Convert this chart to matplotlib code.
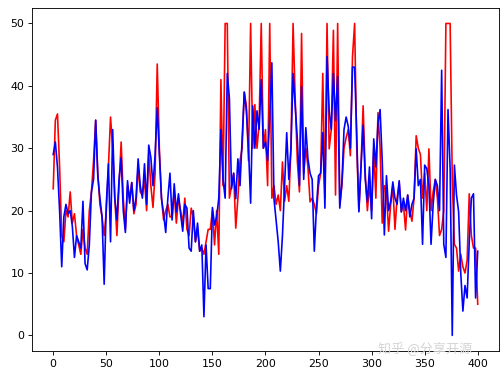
import numpy as np
import matplotlib.pyplot as plt

# sample positions (every 2 steps)
x = np.arange(0, 401, 2)

# actual values (red)
y_true = [
    23.5, 34.5, 35.5, 27, 16, 15, 20, 19, 23, 18,
    19.5, 16, 14.5, 13, 17, 14, 13, 20, 23, 28,
    34.5, 26, 21, 19, 16, 20, 27, 35, 30, 22,
    16, 24, 31, 22, 17, 24, 22, 24.5, 19.5, 21,
    27, 23, 22.5, 25, 20, 29, 24, 20.5, 26, 43.5,
    30, 22, 18.5, 20, 21, 19, 19, 23, 18, 22,
    20, 18, 22, 17, 16, 20.4, 19, 15, 17, 13.5,
    14, 13, 15, 17, 17, 20, 14.5, 20, 13, 41,
    24, 50, 50, 22, 24, 26, 17.2, 22, 28, 30,
    39, 36.8, 28, 50, 30, 37, 30, 34, 50, 30,
    33, 24, 50, 22, 24, 21, 22.5, 20, 27.8, 21.5,
    24, 21.5, 30, 50, 38, 28, 23, 48.4, 26, 30,
    27, 21.4, 22, 21, 19.5, 24, 26, 42, 22, 50,
    29.9, 33, 48.9, 22.5, 50, 21, 24, 30, 31.7, 33,
    28.8, 44.7, 50, 30, 20, 27, 36.8, 26, 20, 24,
    20, 30, 22, 35.7, 30, 18, 24, 23, 16.7, 21,
    24, 17, 22, 24.5, 19.8, 21, 16.9, 22.5, 20, 18.3,
    22, 32, 30, 29, 22, 26, 20, 29.9, 20, 23,
    25, 22, 16, 17, 20, 50, 50, 50, 25, 14.6,
    14, 10.3, 13, 11, 10, 12, 22.7, 16, 14, 14,
    5,
]

# predicted values (blue)
y_pred = [
    29, 31, 27, 20, 11, 19, 21, 19.5, 20, 17.5,
    12.5, 16, 15, 14, 21.5, 11.5, 10.5, 14.5, 23, 25,
    34.5, 25.5, 22, 19, 8.2, 21, 27.5, 15, 33, 22,
    18.5, 25, 28.5, 20, 16.5, 24.8, 21.2, 24.5, 20, 22,
    28.3, 24, 22, 27.5, 21, 30.5, 28.5, 24, 29, 36.5,
    29, 22, 19.5, 16.5, 22, 26, 18.5, 24.3, 19.8, 22.7,
    19.5, 16.7, 21, 20.4, 14, 13.5, 20, 15, 18, 13.5,
    14.5, 3, 14.5, 7.5, 7.5, 20.5, 17.7, 19, 22, 33,
    25, 22, 42, 38, 23.5, 26, 21.9, 28.3, 24, 31.5,
    39, 36, 30, 21.2, 36.8, 30, 36, 33, 41, 30,
    31, 28, 35, 43.7, 21.9, 18.5, 15, 10.3, 16, 24,
    32.5, 25, 30, 42, 36.8, 31.5, 24, 39.9, 25, 33.3,
    28.3, 26, 25, 13.5, 20.4, 25.6, 26, 32.5, 20.4, 44.7,
    36, 33, 42, 34.4, 41.5, 20.4, 24.5, 33, 35, 33.5,
    30, 43, 43, 32, 19.8, 27, 33.7, 25, 21.4, 27,
    18.7, 31.5, 27, 34, 36.2, 28, 16.1, 25.6, 20, 21.5,
    24.6, 22, 21, 24.8, 19.8, 22, 20, 22.5, 19, 21,
    22, 29.9, 24, 25, 14.6, 27.3, 26.7, 24, 14.6, 21,
    25, 24, 20, 42.5, 14.6, 12.5, 36.2, 26.7, 0, 27.3,
    22.5, 19.8, 10, 3.9, 8, 6, 15, 22, 22.7, 6,
    13.5,
]

plt.figure(figsize=(6.4, 375 / 78.75), dpi=78.75)
plt.subplots_adjust(left=0.0635, right=0.990, bottom=0.064, top=0.979)
plt.plot(x, y_true, color="red")
plt.plot(x, y_pred, color="blue")

# watermark (sits on the bottom spine, like in the original screenshot)
plt.gcf().text(0.75, 0.068, "知乎 @分享开源", fontsize=12, color="#d4d4d4",
               va="center", family=["Noto Sans CJK SC", "DejaVu Sans"])

plt.savefig("out.png")
